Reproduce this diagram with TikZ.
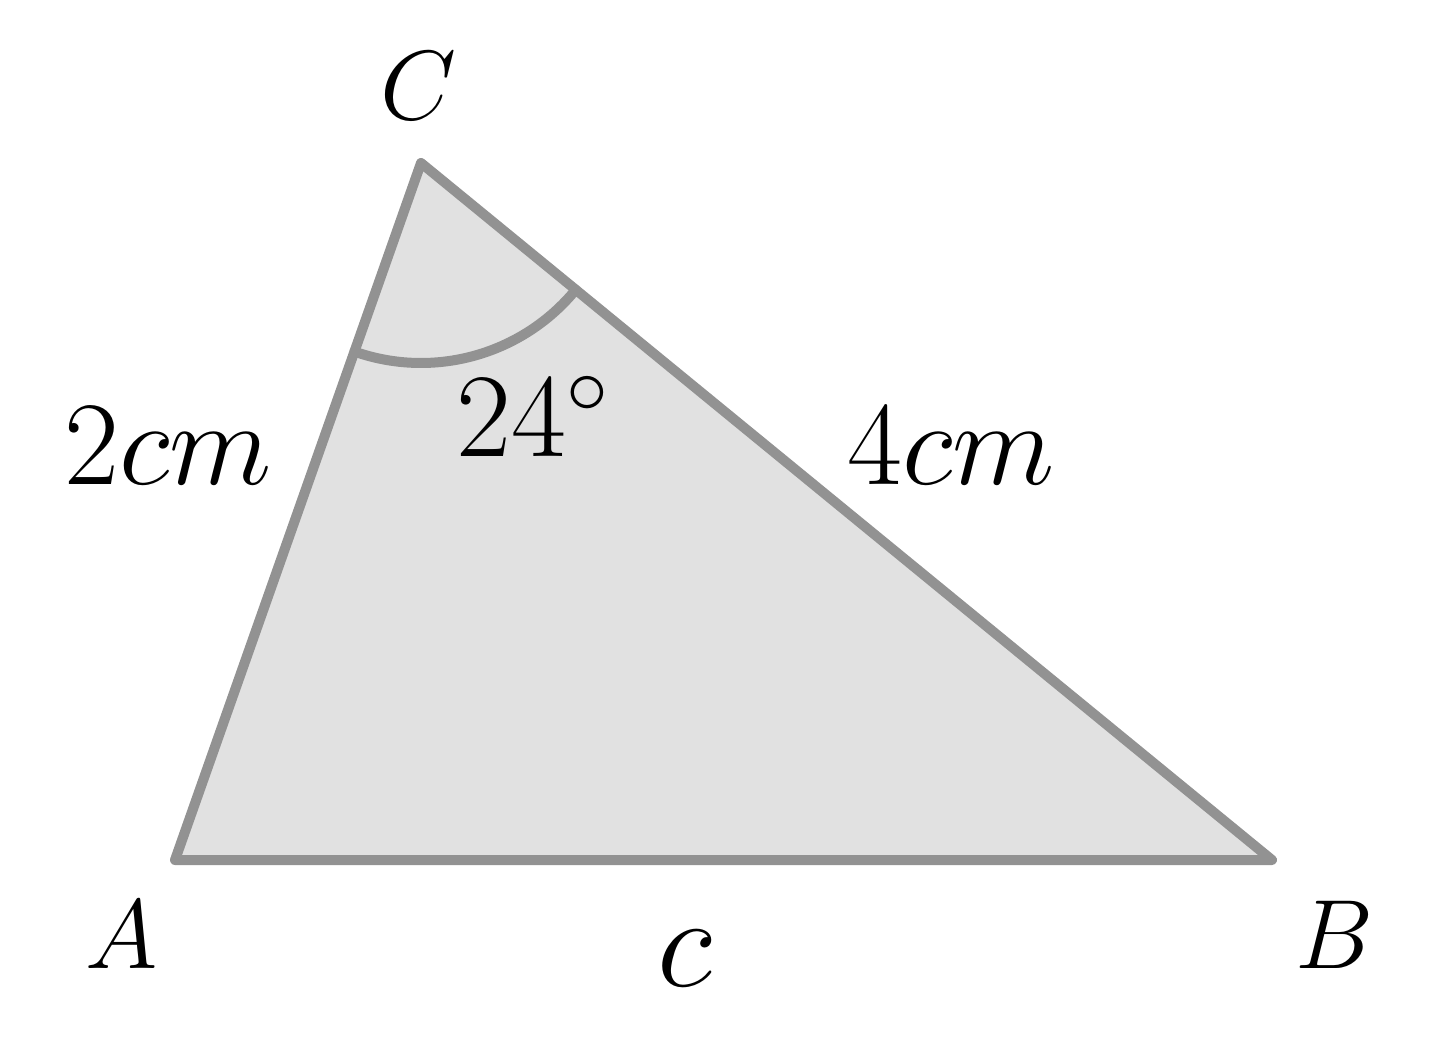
\RequirePackage{fix-cm}
\documentclass[tikz,border=0pt]{standalone}
\usepackage{tikz}
\usetikzlibrary{calc}
\definecolor{edgegray}{RGB}{146,146,146}
\definecolor{fillgray}{RGB}{225,225,225}

\begin{document}
\begin{tikzpicture}[
    side/.style={draw=edgegray,line width=0.1cm,line join=round,line cap=round},
    vlabel/.style={anchor=base,inner sep=0pt,font=\fontsize{28}{32}\selectfont},
    slabel/.style={anchor=base,inner sep=0pt,font=\fontsize{34}{38}\selectfont}]
    \useasboundingbox (0,0) rectangle (14.41,10.39);

    % corners of the triangle
    \coordinate (A) at (1.75,1.79);
    \coordinate (B) at (12.72,1.79);
    \coordinate (C) at (4.21,8.76);

    \fill[fillgray] (A) -- (B) -- (C) -- cycle;
    \draw[side] (A) -- (B) -- (C) -- cycle;

    % angle at C
    \draw[side] ($(C)+(250.56:2)$) arc (250.56:320.7:2);

    \node[vlabel] (lA) at (1.22,0.71) {$A$};
    \node[vlabel] (lB) at (13.35,0.71) {$B$};
    \node[vlabel] (lC) at (4.18,9.19) {$C$};

    \node[slabel,font=\fontsize{37}{40}\selectfont] (lc) at (6.85,0.53) {$c$};
    \node[slabel] (lb) at (1.68,5.54) {$2cm$};
    \node[slabel] (la) at (9.51,5.54) {$4cm$};
    \node[slabel] (lang) at (5.33,5.82) {$24^{\circ}$};
\end{tikzpicture}
\end{document}
